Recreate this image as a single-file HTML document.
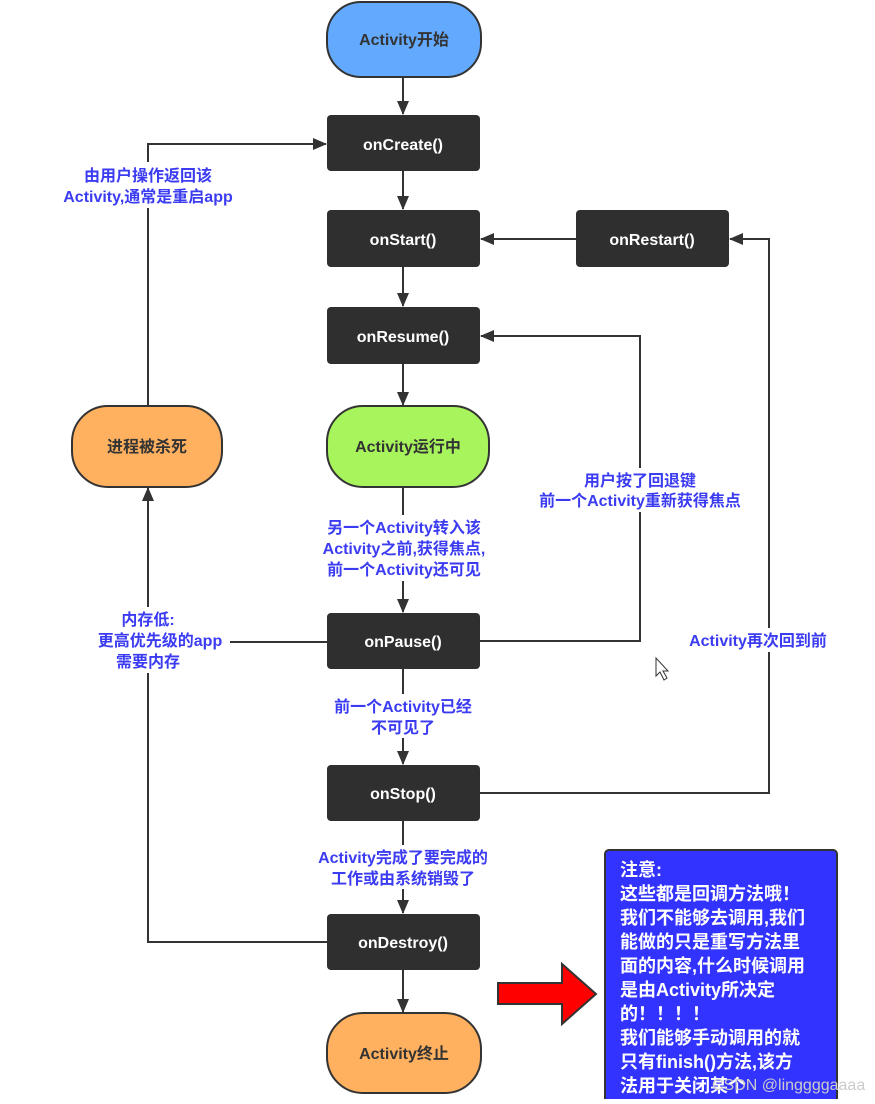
<!DOCTYPE html>
<html><head><meta charset="utf-8"><style>
body{margin:0;background:#fff}
text{font-family:"Liberation Sans","Noto Sans CJK SC",sans-serif;font-weight:bold}
.w{fill:#fff;font-size:16px}
.b{fill:#3b3bf2;font-size:16px}
.n{fill:#333;font-size:16px}
.bg{fill:#fff}
</style></head><body>
<svg width="875" height="1099" xmlns="http://www.w3.org/2000/svg">
<defs><marker id="a" markerWidth="14" markerHeight="12" refX="13" refY="6" orient="auto" markerUnits="userSpaceOnUse"><path d="M0,0 L14,6 L0,12z" fill="#333"/></marker></defs>
<g stroke="#333" stroke-width="2" fill="none">
<line x1="403" y1="77" x2="403" y2="114" marker-end="url(#a)"/>
<line x1="403" y1="171" x2="403" y2="209" marker-end="url(#a)"/>
<line x1="403" y1="267" x2="403" y2="306" marker-end="url(#a)"/>
<line x1="403" y1="364" x2="403" y2="405" marker-end="url(#a)"/>
<line x1="403" y1="487" x2="403" y2="612" marker-end="url(#a)"/>
<line x1="403" y1="669" x2="403" y2="764" marker-end="url(#a)"/>
<line x1="403" y1="821" x2="403" y2="913" marker-end="url(#a)"/>
<line x1="403" y1="970" x2="403" y2="1012" marker-end="url(#a)"/>
<line x1="576" y1="239" x2="481" y2="239" marker-end="url(#a)"/>
<polyline points="327,942 148,942 148,488" marker-end="url(#a)"/>
<line x1="327" y1="642" x2="148" y2="642"/>
<polyline points="148,406 148,144 326,144" marker-end="url(#a)"/>
<polyline points="480,641 640,641 640,336 481,336" marker-end="url(#a)"/>
<polyline points="480,793 769,793 769,239 730,239" marker-end="url(#a)"/>
</g>
<rect x="327" y="2" width="154" height="75" rx="34" fill="#63aaff" stroke="#333" stroke-width="2"/>
<text class="n" x="404" y="45" text-anchor="middle">Activity开始</text>
<g fill="#2f2f2f">
<rect x="327" y="115" width="153" height="56" rx="4"/>
<rect x="327" y="210" width="153" height="57" rx="4"/>
<rect x="576" y="210" width="153" height="57" rx="4"/>
<rect x="327" y="307" width="153" height="57" rx="4"/>
<rect x="327" y="613" width="153" height="56" rx="4"/>
<rect x="327" y="765" width="153" height="56" rx="4"/>
<rect x="327" y="914" width="153" height="56" rx="4"/>
</g>
<text class="w" x="403" y="150" text-anchor="middle">onCreate()</text>
<text class="w" x="403" y="245" text-anchor="middle">onStart()</text>
<text class="w" x="652" y="245" text-anchor="middle">onRestart()</text>
<text class="w" x="403" y="342" text-anchor="middle">onResume()</text>
<text class="w" x="403" y="647" text-anchor="middle">onPause()</text>
<text class="w" x="403" y="799" text-anchor="middle">onStop()</text>
<text class="w" x="403" y="948" text-anchor="middle">onDestroy()</text>
<rect x="327" y="406" width="162" height="81" rx="36" fill="#a8f45c" stroke="#333" stroke-width="2"/>
<text class="n" x="408" y="452" text-anchor="middle">Activity运行中</text>
<rect x="72" y="406" width="150" height="81" rx="36" fill="#ffb160" stroke="#333" stroke-width="2"/>
<text class="n" x="147" y="452" text-anchor="middle">进程被杀死</text>
<rect x="327" y="1013" width="154" height="80" rx="36" fill="#ffb160" stroke="#333" stroke-width="2"/>
<text class="n" x="404" y="1059" text-anchor="middle">Activity终止</text>
<g>
<rect class="bg" x="54" y="162" width="190" height="46"/>
<rect class="bg" x="528" y="468" width="225" height="44"/>
<rect class="bg" x="312" y="515" width="184" height="66"/>
<rect class="bg" x="92" y="607" width="138" height="66"/>
<rect class="bg" x="682" y="628" width="150" height="24"/>
<rect class="bg" x="322" y="694" width="162" height="44"/>
<rect class="bg" x="306" y="845" width="194" height="44"/>
</g>
<g text-anchor="middle">
<text class="b" x="148" y="181">由用户操作返回该</text>
<text class="b" x="148" y="202">Activity,通常是重启app</text>
<text class="b" x="640" y="486">用户按了回退键</text>
<text class="b" x="640" y="506">前一个Activity重新获得焦点</text>
<text class="b" x="404" y="533">另一个Activity转入该</text>
<text class="b" x="404" y="554">Activity之前,获得焦点,</text>
<text class="b" x="404" y="575">前一个Activity还可见</text>
<text class="b" x="148" y="625">内存低:</text>
<text class="b" x="160" y="646">更高优先级的app</text>
<text class="b" x="148" y="667">需要内存</text>
<text class="b" x="758" y="646">Activity再次回到前</text>
<text class="b" x="403" y="712">前一个Activity已经</text>
<text class="b" x="403" y="733">不可见了</text>
<text class="b" x="403" y="863">Activity完成了要完成的</text>
<text class="b" x="403" y="884">工作或由系统销毁了</text>
</g>
<path d="M498,983 L562,983 L562,964 L596,994 L562,1024 L562,1004 L498,1004z" fill="#f00" stroke="#333" stroke-width="2"/>
<rect x="605" y="850" width="232" height="260" rx="4" fill="#3333ff" stroke="#333" stroke-width="2"/>
<g>
<text class="w" x="620" y="876" font-size="18" style="font-size:18px">注意:</text>
<text class="w" x="620" y="900" style="font-size:18px">这些都是回调方法哦！</text>
<text class="w" x="620" y="924" style="font-size:18px">我们不能够去调用,我们</text>
<text class="w" x="620" y="948" style="font-size:18px">能做的只是重写方法里</text>
<text class="w" x="620" y="972" style="font-size:18px">面的内容,什么时候调用</text>
<text class="w" x="620" y="996" style="font-size:18px">是由Activity所决定</text>
<text class="w" x="620" y="1020" style="font-size:18px">的！！！！</text>
<text class="w" x="620" y="1044" style="font-size:18px">我们能够手动调用的就</text>
<text class="w" x="620" y="1068" style="font-size:18px">只有finish()方法,该方</text>
<text class="w" x="620" y="1092" style="font-size:18px">法用于关闭某个</text>
</g>
<text x="712" y="1090" font-size="16" style="font-weight:normal" fill="#ccc">CSDN @linggggaaaa</text>
<path d="M656,658 L656,676 L660,672 L664,680 L667,678 L663,671 L668,671z" fill="#fff" stroke="#333" stroke-width="1"/>
</svg>
</body></html>
